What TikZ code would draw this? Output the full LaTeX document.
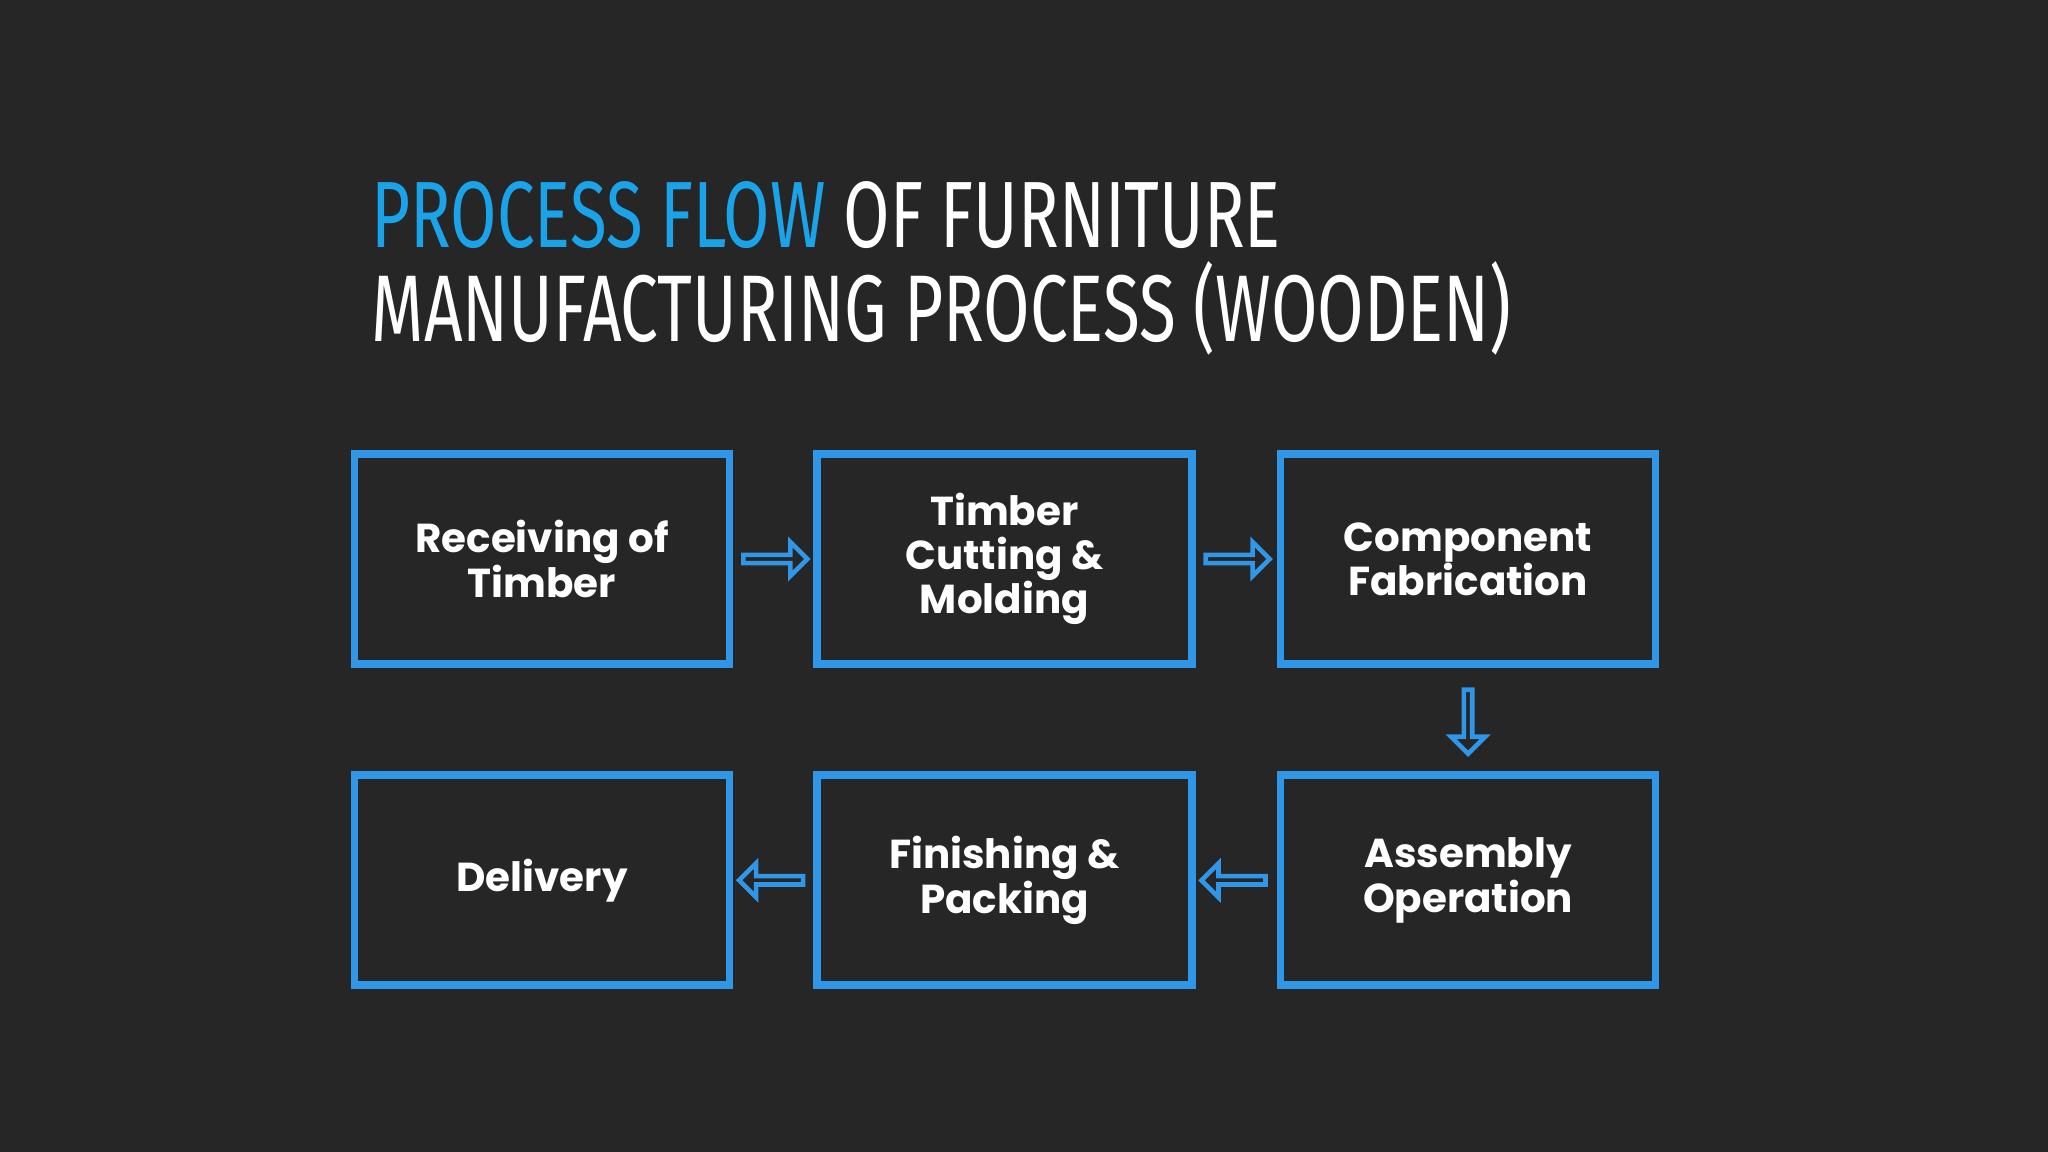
\documentclass[tikz,border=0pt]{standalone}
\usepackage{fontspec}
\setmainfont{Poppins}
\newfontfamily\titlefont{Fira Sans}
\usetikzlibrary{shapes.arrows}
\definecolor{bg}{HTML}{262626}
\definecolor{tblue}{HTML}{1AA3E8}
\definecolor{bblue}{HTML}{2F96E8}
\begin{document}
\begin{tikzpicture}[x=0.013061cm,y=-0.013061cm,
  box/.style={draw=bblue,line width=2.2pt,minimum width=3.75cm,minimum height=2.1cm,
    text=white,font=\fontsize{11.5}{12.6}\selectfont\bfseries,align=center},
  arr/.style={single arrow,draw=bblue,line width=1.3pt,minimum height=0.64cm,
    minimum width=0.34cm,single arrow head extend=0.07cm,inner sep=0pt}]
\fill[bg] (0,0) rectangle (1568,882);
\path[use as bounding box] (0,0) rectangle (1568,882);
\node[anchor=west,inner sep=0] (t1) at (284,165) {\resizebox{9.09cm}{0.66cm}{\titlefont\color{tblue}PROCESS FLOW \color{white}OF FURNITURE}};
\node[anchor=west,inner sep=0] (t2) at (284,236) {\resizebox{11.4cm}{0.8cm}{\titlefont\color{white}MANUFACTURING PROCESS (WOODEN)}};
\node[box] (b1) at (415,428) {Receiving of\\Timber};
\node[box] (b2) at (769,428) {Timber\\Cutting \&\\Molding};
\node[box] (b3) at (1124,428) {Component\\Fabrication};
\node[box] (b4) at (1124,674) {Assembly\\Operation};
\node[box] (b5) at (769,674) {Finishing \&\\Packing};
\node[box] (b6) at (415,674) {Delivery};
\node[arr] (a1) at (592,428) {};
\node[arr] (a2) at (946,428) {};
\node[arr,shape border rotate=270] (a3) at (1124,551) {};
\node[arr,shape border rotate=180] (a4) at (946,674) {};
\node[arr,shape border rotate=180] (a5) at (592,674) {};
\end{tikzpicture}
\end{document}
